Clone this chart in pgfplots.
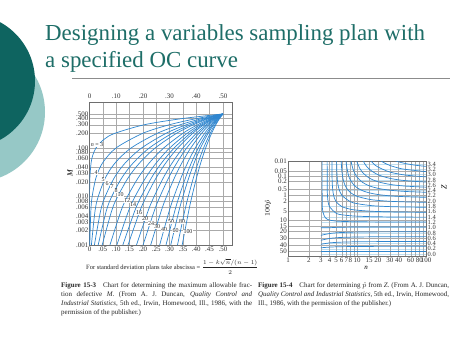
\documentclass[border=0pt]{standalone}
\usepackage{pgfplots}
\pgfplotsset{compat=1.18}
\usepackage{pgfplotstable}
\usepackage{fontspec}
\setmainfont{Liberation Serif}
\definecolor{tealdark}{RGB}{14,100,96}
\definecolor{teallight}{RGB}{150,200,198}
\definecolor{titlec}{RGB}{30,110,104}
\definecolor{curvec}{RGB}{46,134,208}
\definecolor{gridc}{RGB}{170,170,170}
\definecolor{framec}{RGB}{110,110,110}
\definecolor{zgrid}{RGB}{190,222,240}

\pgfplotstableread{
M n4 n5 n6 n7 n8 n10 n12 n14 n16 n20 n24 n30 n40 n50 n60 n80 n100
0.001 0.001 0.00704 0.01837 0.03252 0.04755 0.07665 0.10251 0.12492 0.14432 0.17599 0.20070 0.22926 0.26296 0.28664 0.30441 0.32972 0.34730
0.005 0.005 0.02063 0.04140 0.06274 0.08284 0.11772 0.14607 0.16928 0.18870 0.21931 0.24244 0.26857 0.29865 0.31950 0.33496 0.35680 0.37176
0.01 0.01 0.03284 0.05891 0.08356 0.10562 0.14230 0.17095 0.19398 0.21291 0.24228 0.26423 0.28872 0.31670 0.33591 0.35017 0.37016 0.38382
0.025 0.025 0.06085 0.09431 0.12273 0.14663 0.18406 0.21202 0.23377 0.25133 0.27811 0.29779 0.31953 0.34403 0.36062 0.37288 0.39004 0.40175
0.05 0.05 0.09733 0.13534 0.16528 0.18927 0.22527 0.25141 0.27128 0.28708 0.31083 0.32812 0.34698 0.36809 0.38237 0.39278 0.40737 0.41726
0.1 0.1 0.15644 0.19583 0.22456 0.24661 0.27858 0.30099 0.31774 0.33086 0.35043 0.36445 0.37959 0.39652 0.40786 0.41612 0.42763 0.43539
0.2 0.2 0.25420 0.28714 0.30975 0.32655 0.35008 0.36610 0.37781 0.38701 0.40045 0.41003 0.42024 0.43162 0.43918 0.44467 0.45232 0.45748
0.3 0.3 0.34030 0.36318 0.37874 0.38989 0.40523 0.41553 0.42313 0.42897 0.43756 0.44365 0.45017 0.45725 0.46201 0.46548 0.47027 0.47347
0.4 0.4 0.42100 0.43286 0.44072 0.44622 0.45388 0.45903 0.46272 0.46561 0.46977 0.47275 0.47584 0.47934 0.48161 0.48333 0.48563 0.48718
0.5 0.5 0.5 0.5 0.5 0.5 0.5 0.5 0.5 0.5 0.5 0.5 0.5 0.5 0.5 0.5 0.5 0.5
}\tabM

\pgfplotstableread{
x M
0.000003 0.001
0.0000617 0.005
0.000247 0.01
0.00154 0.025
0.00616 0.05
0.01204 0.07
0.0245 0.1
0.0545 0.15
0.0955 0.2
0.2061 0.3
0.3455 0.4
0.5 0.5
}\tabNthree

\begin{document}
\begin{tikzpicture}[x=1bp,y=1bp]
\useasboundingbox (0,0) rectangle (474,-355);
\clip (0,0) rectangle (474,-355);
\fill[white] (0,0) rectangle (474,-355);
% decoration
\fill[teallight] (-25,-112) circle (70);
\fill[tealdark] (-32,-81) circle (67);
% title
\node[anchor=base west, inner sep=0, text=titlec, font=\fontsize{23}{27}\selectfont] at (45,-40) {Designing a variables sampling plan with};
\node[anchor=base west, inner sep=0, text=titlec, font=\fontsize{23}{27}\selectfont] at (45,-67) {a specified OC curve};
\draw[black!45, line width=1.2] (72,-78.5) -- (450,-78.5);

% ---------------- Chart 1 ----------------
\begin{axis}[
  at={(89.5bp,-245bp)}, anchor=south west, scale only axis,
  width=142.5bp, height=143bp,
  xmin=0, xmax=0.534, ymin=0.001, ymax=0.88, ymode=log,
  xtick={0,0.05,0.1,0.15,0.2,0.25,0.3,0.35,0.4,0.45,0.5},
  xticklabels={0,.05,.10,.15,.20,.25,.30,.35,.40,.45,.50},
  ytick={0.001,0.002,0.003,0.004,0.006,0.008,0.01,0.02,0.03,0.04,0.06,0.08,0.1,0.2,0.3,0.4,0.5},
  yticklabels={.001,.002,.003,.004,.006,.008,.010,.020,.030,.040,.060,.080,.100,.200,.300,.400,.500},
  minor tick num=0,
  major tick length=0,
  grid=major, grid style={gridc, line width=0.4},
  axis line style={framec, line width=0.5},
  tick label style={font=\fontsize{7}{7}\selectfont, text=black!80},
  xticklabel style={inner sep=1.5bp},
  yticklabel style={inner sep=1bp},
  clip=true,
]
\addplot[curvec, line width=0.7, smooth] table[x=x,y=M]{\tabNthree};
\pgfplotsinvokeforeach{n4,n5,n6,n7,n8,n10,n12,n14,n16,n20,n24,n30,n40,n50,n60,n80,n100}{
  \addplot[curvec, line width=0.7, smooth] table[x=#1,y=M]{\tabM};
}
\end{axis}
% top tick labels chart 1
\foreach \v/\l in {0/0,0.1/.10,0.2/.20,0.3/.30,0.4/.40,0.5/.50}
  \node[anchor=base, inner sep=0, font=\fontsize{7}{7}\selectfont, text=black!80] at ({89.5+\v*267},-98.5) {\l};
% curve labels chart 1 (picture coords)
\begin{scope}[every node/.style={font=\fontsize{6}{6}\selectfont, inner sep=0.2bp, fill=white, text=black!85}]
\node[anchor=west] at (90.5,-145) {\textit{n} = 3};
\node at (96,-173) {4};
\node at (103,-180) {5};
\node at (107,-183.5) {6};
\node at (112,-187) {7};
\node at (116,-191) {8};
\node at (120.5,-195) {10};
\node at (127,-201) {12};
\node at (133,-205) {14};
\node at (139,-213) {16};
\node at (145,-219) {20};
\node at (151,-223.5) {24};
\node at (157,-227) {30};
\node at (164,-230) {40};
\node at (171,-222) {50};
\node at (175.5,-231) {60};
\node at (182,-222) {80};
\node at (188,-232) {100};
\end{scope}
\node[rotate=90, font=\itshape\fontsize{8}{8}\selectfont] at (70,-173) {M};
\node[anchor=base west, inner sep=0, font=\fontsize{6.5}{7}\selectfont, text=black!85] at (86,-269) {For standard deviation plans take abscissa = ${\displaystyle\frac{1-k\sqrt{n}/(n-1)}{2}}$};

% ---------------- Chart 2 ----------------
\foreach \i in {0,...,17}
  \draw[zgrid, line width=0.4] (321,{-(164+\i*5.3)}) -- (426,{-(164+\i*5.3)});
\begin{axis}[
  at={(288bp,-256bp)}, anchor=south west, scale only axis,
  width=138bp, height=95bp,
  xmode=log, xmin=1, xmax=100, ymin=-0.2, ymax=3.72,
  xtick={1,2,3,4,5,6,7,8,10,15,20,30,40,60,80,100},
  xticklabels={1,2,3,4,5,6,7,8,10,15,20,30,40,60,80,100},
  minor xtick={9,50,70,90},
  ytick={3.719,3.291,3.090,2.878,2.576,2.326,2.054,1.645,1.282,1.036,0.842,0.524,0.253,0},
  yticklabels={0.01,0.05,0.1,0.2,0.5,1,2,5,10,15,20,30,40,50},
  major tick length=0, minor tick length=0,
  grid=both, grid style={gridc, line width=0.4}, minor grid style={gridc, line width=0.4},
  axis line style={framec, line width=0.5},
  tick label style={font=\fontsize{7}{7}\selectfont, text=black!80},
  xticklabel style={inner sep=1.5bp},
  yticklabel style={inner sep=1bp},
  clip=true,
]
\pgfplotsset{every axis plot/.style={curvec, line width=0.7}}
\addplot[smooth] coordinates {(3,0) (100,0)};
\addplot[smooth] coordinates {(3,0.139) (4,0.168) (5,0.180) (6,0.185) (8,0.1905) (10,0.193) (15,0.196) (20,0.197) (30,0.198) (50,0.199) (100,0.1995)};
\addplot[smooth] coordinates {(3,0.285) (4,0.341) (5,0.363) (6,0.373) (8,0.383) (10,0.388) (15,0.393) (20,0.395) (30,0.397) (50,0.398) (100,0.399)};
\addplot[smooth] coordinates {(3,0.451) (4,0.524) (5,0.554) (6,0.567) (8,0.579) (10,0.585) (15,0.591) (20,0.594) (30,0.596) (50,0.598) (100,0.599)};
\addplot[smooth] coordinates {(3,0.655) (4,0.728) (5,0.759) (6,0.770) (8,0.782) (10,0.787) (15,0.793) (20,0.795) (30,0.797) (50,0.798) (100,0.799)};
\addplot[smooth] coordinates {(3,0.967) (4,0.967) (5,0.982) (6,0.988) (8,0.994) (10,0.996) (15,0.998) (20,0.999) (30,1.0) (50,1.0) (100,1.0)};
\addplot[smooth] coordinates {(3.12,3.9) (3.13,2.1) (3.2,1.62) (3.5,1.37) (4,1.282) (5,1.240) (6,1.228) (8,1.218) (10,1.214) (15,1.209) (20,1.207) (30,1.205) (50,1.203) (100,1.202)};
\addplot[smooth] coordinates {(3.69,3.9) (3.70,2.63) (3.72,2.38) (3.75,2.21) (3.8,2.06) (4,1.834) (5,1.561) (6,1.503) (8,1.462) (10,1.444) (15,1.426) (20,1.419) (30,1.412) (50,1.407) (100,1.404)};
\addplot[smooth] coordinates {(4.33,3.9) (4.35,3.07) (4.4,2.70) (4.5,2.42) (4.7,2.19) (5,2.035) (6,1.841) (8,1.731) (10,1.691) (15,1.652) (20,1.637) (30,1.623) (50,1.613) (100,1.607)};
\addplot[smooth] coordinates {(5.04,3.9) (5.06,3.71) (5.1,3.30) (5.2,2.93) (5.4,2.63) (6,2.312) (8,2.042) (10,1.961) (15,1.889) (20,1.861) (30,1.838) (50,1.822) (100,1.811)};
\addplot[smooth] coordinates {(5.85,3.95) (5.9,3.75) (6,3.383) (6.2,3.058) (6.5,2.819) (7,2.615) (8,2.422) (10,2.264) (15,2.139) (20,2.095) (30,2.058) (50,2.033) (100,2.016)};
\addplot[smooth] coordinates {(6.8,4.08) (6.9,3.774) (7,3.588) (7.5,3.144) (8,2.941) (9,2.731) (10,2.618) (12,2.496) (15,2.407) (20,2.338) (30,2.283) (50,2.247) (100,2.222)};
\addplot[smooth] coordinates {(7.9,4.12) (8.2,3.727) (8.5,3.512) (9,3.294) (10,3.058) (12,2.840) (15,2.698) (20,2.594) (30,2.515) (50,2.464) (100,2.430)};
\addplot[smooth] coordinates {(9.5,3.93) (9.8,3.766) (10,3.681) (11,3.407) (12,3.251) (15,3.020) (20,2.867) (30,2.755) (50,2.685) (100,2.640)};
\addplot[smooth] coordinates {(11,4.112) (12,3.783) (13,3.598) (15,3.387) (20,3.159) (30,3.004) (50,2.910) (100,2.851)};
\addplot[smooth] coordinates {(14,3.971) (15,3.823) (17,3.635) (20,3.477) (30,3.264) (50,3.140) (100,3.065)};
\addplot[smooth] coordinates {(17,4.067) (20,3.830) (22,3.735) (25,3.638) (30,3.536) (40,3.430) (50,3.376) (100,3.280)};
\addplot[smooth] coordinates {(25,3.960) (30,3.824) (35,3.742) (40,3.687) (50,3.617) (70,3.546) (100,3.498)};
\end{axis}
% Z labels
\foreach \z [count=\i from 0] in {3.4,3.2,3.0,2.8,2.6,2.4,2.2,2.0,1.8,1.6,1.4,1.2,1.0,0.8,0.6,0.4,0.2,0.0}
  \node[anchor=west, inner sep=0, font=\fontsize{6.5}{6.5}\selectfont, text=black!80] at (427.5,{-(164+\i*5.3)}) {\z};
\node[rotate=90, font=\fontsize{7.5}{7.5}\selectfont] at (268,-208) {$100\hat{p}$};
\node[rotate=90, font=\itshape\fontsize{8}{8}\selectfont] at (444,-187) {Z};
\node[font=\itshape\fontsize{7}{7}\selectfont] at (366,-268) {n};

% ---------------- Captions ----------------
\node[anchor=north west, inner sep=0, text width=191bp, align=justify, font=\fontsize{7}{9}\selectfont, text=black!85] at (61,-282) {\textbf{Figure 15-3}\hspace{1em}Chart for determining the maximum allowable frac-\linebreak tion defective \textit{M}. (From A. J. Duncan, \textit{Quality Control and}\linebreak \textit{Industrial Statistics}, 5th ed., Irwin, Homewood, Ill., 1986, with the\linebreak permission of the publisher.)};
\node[anchor=north west, inner sep=0, text width=191bp, align=justify, font=\fontsize{7}{9}\selectfont, text=black!85] at (258,-282) {\textbf{Figure 15-4}\hspace{1em}Chart for determining $\hat{p}$ from \textit{Z}. (From A. J. Duncan,\linebreak \textit{Quality Control and Industrial Statistics}, 5th ed., Irwin, Homewood,\linebreak Ill., 1986, with the permission of the publisher.)};
\end{tikzpicture}
\end{document}
